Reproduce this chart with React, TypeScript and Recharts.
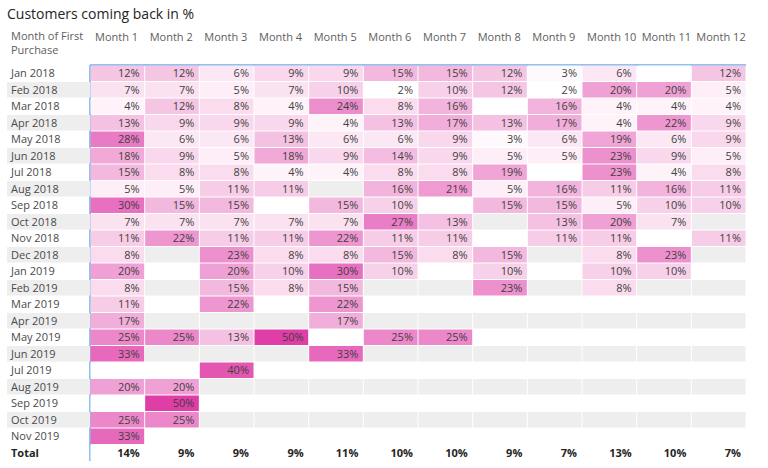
import React from 'react';
import { ScatterChart, Scatter, XAxis, YAxis, ReferenceLine } from 'recharts';

const COHORTS = [
  'Jan 2018', 'Feb 2018', 'Mar 2018', 'Apr 2018', 'May 2018', 'Jun 2018',
  'Jul 2018', 'Aug 2018', 'Sep 2018', 'Oct 2018', 'Nov 2018', 'Dec 2018',
  'Jan 2019', 'Feb 2019', 'Mar 2019', 'Apr 2019', 'May 2019', 'Jun 2019',
  'Jul 2019', 'Aug 2019', 'Sep 2019', 'Oct 2019', 'Nov 2019',
];

const MONTHS = [
  'Month 1', 'Month 2', 'Month 3', 'Month 4', 'Month 5', 'Month 6',
  'Month 7', 'Month 8', 'Month 9', 'Month 10', 'Month 11', 'Month 12',
];

// % of customers coming back, one row per cohort (null = no value)
const _ = null;
const RETENTION: (number | null)[][] = [
  [12, 12, 6, 9, 9, 15, 15, 12, 3, 6, _, 12],
  [7, 7, 5, 7, 10, 2, 10, 12, 2, 20, 20, 5],
  [4, 12, 8, 4, 24, 8, 16, _, 16, 4, 4, 4],
  [13, 9, 9, 9, 4, 13, 17, 13, 17, 4, 22, 9],
  [28, 6, 6, 13, 6, 6, 9, 3, 6, 19, 6, 9],
  [18, 9, 5, 18, 9, 14, 9, 5, 5, 23, 9, 5],
  [15, 8, 8, 4, 4, 8, 8, 19, _, 23, 4, 8],
  [5, 5, 11, 11, _, 16, 21, 5, 16, 11, 16, 11],
  [30, 15, 15, _, 15, 10, _, 15, 15, 5, 10, 10],
  [7, 7, 7, 7, 7, 27, 13, _, 13, 20, 7, _],
  [11, 22, 11, 11, 22, 11, 11, _, 11, 11, _, 11],
  [8, _, 23, 8, 8, 15, 8, 15, _, 8, 23, _],
  [20, _, 20, 10, 30, 10, _, 10, _, 10, 10, _],
  [8, _, 15, 8, 15, _, _, 23, _, 8, _, _],
  [11, _, 22, _, 22, _, _, _, _, _, _, _],
  [17, _, _, _, 17, _, _, _, _, _, _, _],
  [25, 25, 13, 50, _, 25, 25, _, _, _, _, _],
  [33, _, _, _, 33, _, _, _, _, _, _, _],
  [_, _, 40, _, _, _, _, _, _, _, _, _],
  [20, 20, _, _, _, _, _, _, _, _, _, _],
  [_, 50, _, _, _, _, _, _, _, _, _, _],
  [25, 25, _, _, _, _, _, _, _, _, _, _],
  [33, _, _, _, _, _, _, _, _, _, _, _],
];

const TOTALS = [14, 9, 9, 9, 11, 10, 10, 9, 7, 13, 10, 7];

const W = 768;
const H = 468;
const LEFT = 90;
const RIGHT = 746;
const TOP = 65;
const BOTTOM = 461;
const ROW_COUNT = COHORTS.length + 1;
const CELL_W = (RIGHT - LEFT) / MONTHS.length;
const ROW_H = (BOTTOM - TOP) / ROW_COUNT;
const FONT = "'Segoe UI', 'Open Sans', sans-serif";
const STRIPE = '#eeeeee';

// colour stops
const STOPS: [number, number[]][] = [
  [2, [255, 255, 255]],
  [7, [251, 226, 241]],
  [12, [245, 198, 228]],
  [30, [232, 112, 192]],
  [50, [222, 62, 166]],
];

function heat(v: number) {
  if (v <= STOPS[0][0]) return 'rgb(255,255,255)';
  for (let i = 1; i < STOPS.length; i++) {
    const [v1, c1] = STOPS[i];
    const [v0, c0] = STOPS[i - 1];
    if (v <= v1 || i === STOPS.length - 1) {
      const t = Math.min(1, (v - v0) / (v1 - v0));
      const c = c0.map((a, k) => Math.round(a + (c1[k] - a) * t));
      return `rgb(${c[0]},${c[1]},${c[2]})`;
    }
  }
  return 'white';
}

const cells: any[] = [];
RETENTION.forEach((row, r) => {
  row.forEach((value, c) => {
    cells.push({ x: c + 1, y: r + 1, value, total: false });
  });
});
TOTALS.forEach((value, c) => {
  cells.push({ x: c + 1, y: ROW_COUNT, value, total: true });
});

const CellShape = (props: any) => {
  const { cx, cy, payload } = props;
  const { value, total, y } = payload;
  let fill = 'white';
  if (!total) {
    if (value != null) fill = heat(value);
    else if (y % 2 === 0) fill = STRIPE;
  }
  return (
    <g>
      <rect x={cx - CELL_W / 2 + 0.5} y={cy - ROW_H / 2 + 0.5} width={CELL_W - 1} height={ROW_H - 1} fill={fill} />
      {value != null && (
        <text
          x={cx + CELL_W / 2 - 5}
          y={cy}
          dy="0.36em"
          textAnchor="end"
          fontFamily={FONT}
          fontSize={11}
          fontWeight={total ? 700 : 400}
          fill={total ? '#252423' : '#3f3f3f'}
        >
          {value}%
        </text>
      )}
    </g>
  );
};

const MonthTick = (props: any) => {
  const { x, payload } = props;
  return (
    <text x={x - CELL_W / 2 + 5} y={41} fontFamily={FONT} fontSize={11} fill="#605e5c">
      {MONTHS[payload.value - 1]}
    </text>
  );
};

const RowTick = (props: any) => {
  const { y, payload } = props;
  const i = payload.value;
  const isTotal = i === ROW_COUNT;
  return (
    <g>
      {!isTotal && i % 2 === 0 && (
        <rect x={7} y={y - ROW_H / 2 + 0.5} width={LEFT - 7} height={ROW_H - 1} fill={STRIPE} />
      )}
      <text
        x={11}
        y={y}
        dy="0.36em"
        fontFamily={FONT}
        fontSize={11}
        fontWeight={isTotal ? 700 : 400}
        fill={isTotal ? '#252423' : '#4a4a4a'}
      >
        {isTotal ? 'Total' : COHORTS[i - 1]}
      </text>
    </g>
  );
};

export default function App() {
  const monthTicks = MONTHS.map((m, i) => i + 1);
  const rowTicks = Array.from({ length: ROW_COUNT }, (v, i) => i + 1);
  return (
    <div style={{ position: 'absolute', left: 0, top: 0, width: W, height: H, background: 'white', fontFamily: FONT }}>
      <div style={{ position: 'absolute', left: 7, top: 5, fontSize: 14, color: '#252423', lineHeight: '18px' }}>
        Customers coming back in %
      </div>
      <div style={{ position: 'absolute', left: 11, top: 29, fontSize: 11, color: '#605e5c', lineHeight: '14px' }}>
        Month of First
        <br />
        Purchase
      </div>
      <ScatterChart width={W} height={H} margin={{ top: TOP - 30, right: W - RIGHT, bottom: H - BOTTOM, left: 0 }}>
        <XAxis
          type="number"
          dataKey="x"
          orientation="top"
          domain={[0.5, MONTHS.length + 0.5]}
          ticks={monthTicks}
          interval={0}
          height={30}
          axisLine={false}
          tickLine={false}
          tick={<MonthTick />}
        />
        <YAxis
          type="number"
          dataKey="y"
          domain={[0.5, ROW_COUNT + 0.5]}
          reversed
          ticks={rowTicks}
          interval={0}
          width={LEFT}
          axisLine={false}
          tickLine={false}
          tick={<RowTick />}
        />
        <Scatter data={cells} shape={<CellShape />} isAnimationActive={false} />
        <ReferenceLine y={0.5} stroke="#6aaee8" strokeWidth={1.5} />
        <ReferenceLine x={0.5} stroke="#6aaee8" strokeWidth={1.5} />
      </ScatterChart>
    </div>
  );
}
